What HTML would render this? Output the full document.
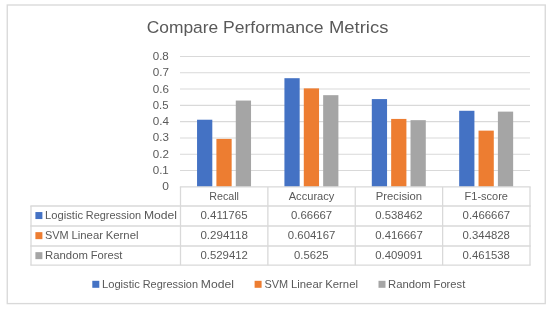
<!DOCTYPE html>
<html lang="en"><head><meta charset="utf-8"><title>Compare Performance Metrics</title>
<style>
html,body{margin:0;padding:0;background:#fff;}
body{width:550px;height:310px;overflow:hidden;}
svg{display:block;}
svg text{font-family:"Liberation Sans",sans-serif;fill:#595959;font-size:10.9px;white-space:pre;}
svg text.t{font-size:17.2px;}
</style></head><body>
<svg width="550" height="310" viewBox="0 0 550 310">
<rect x="0" y="0" width="550" height="310" fill="#fff"/>
<rect x="7.25" y="5.0" width="538.0" height="298.6" fill="#fff" stroke="#D9D9D9" stroke-width="1.35"/>
<g stroke="#D9D9D9" stroke-width="1.05" fill="none">
<line x1="180.0" y1="170.51" x2="530.0" y2="170.51"/>
<line x1="180.0" y1="154.22" x2="530.0" y2="154.22"/>
<line x1="180.0" y1="137.93" x2="530.0" y2="137.93"/>
<line x1="180.0" y1="121.64" x2="530.0" y2="121.64"/>
<line x1="180.0" y1="105.35" x2="530.0" y2="105.35"/>
<line x1="180.0" y1="89.06" x2="530.0" y2="89.06"/>
<line x1="180.0" y1="72.77" x2="530.0" y2="72.77"/>
<line x1="180.0" y1="56.48" x2="530.0" y2="56.48"/>
</g>
<rect x="197.05" y="119.72" width="15.25" height="67.08" fill="#4472C4"/>
<rect x="216.41" y="138.89" width="15.25" height="47.91" fill="#ED7D31"/>
<rect x="235.78" y="100.56" width="15.25" height="86.24" fill="#A5A5A5"/>
<rect x="284.42" y="78.20" width="15.25" height="108.60" fill="#4472C4"/>
<rect x="303.79" y="88.38" width="15.25" height="98.42" fill="#ED7D31"/>
<rect x="323.15" y="95.17" width="15.25" height="91.63" fill="#A5A5A5"/>
<rect x="371.80" y="99.08" width="15.25" height="87.72" fill="#4472C4"/>
<rect x="391.16" y="118.92" width="15.25" height="67.88" fill="#ED7D31"/>
<rect x="410.53" y="120.16" width="15.25" height="66.64" fill="#A5A5A5"/>
<rect x="459.17" y="110.78" width="15.25" height="76.02" fill="#4472C4"/>
<rect x="478.54" y="130.63" width="15.25" height="56.17" fill="#ED7D31"/>
<rect x="497.90" y="111.62" width="15.25" height="75.18" fill="#A5A5A5"/>
<g stroke="#D9D9D9" stroke-width="1.3" fill="none">
<line x1="179.85" y1="186.9" x2="530.65" y2="186.9"/>
<line x1="30.35" y1="206.0" x2="530.65" y2="206.0"/>
<line x1="30.35" y1="226.0" x2="530.65" y2="226.0"/>
<line x1="30.35" y1="246.0" x2="530.65" y2="246.0"/>
<line x1="30.35" y1="265.2" x2="530.65" y2="265.2"/>
<line x1="31.0" y1="206.0" x2="31.0" y2="265.2"/>
<line x1="180.50" y1="186.9" x2="180.50" y2="265.2"/>
<line x1="267.88" y1="186.9" x2="267.88" y2="265.2"/>
<line x1="355.25" y1="186.9" x2="355.25" y2="265.2"/>
<line x1="442.62" y1="186.9" x2="442.62" y2="265.2"/>
<line x1="530.00" y1="186.9" x2="530.00" y2="265.2"/>
</g>
<rect x="35.4" y="212.05" width="7.0" height="7.0" fill="#4472C4"/>
<rect x="92.3" y="280.80" width="7.0" height="7.0" fill="#4472C4"/>
<rect x="35.4" y="232.15" width="7.0" height="7.0" fill="#ED7D31"/>
<rect x="254.6" y="280.80" width="7.0" height="7.0" fill="#ED7D31"/>
<rect x="35.4" y="252.15" width="7.0" height="7.0" fill="#A5A5A5"/>
<rect x="378.5" y="280.80" width="7.0" height="7.0" fill="#A5A5A5"/>
<text class="t" y="33.10"><tspan x="146.72" textLength="71.56" lengthAdjust="spacingAndGlyphs">Compare</tspan> <tspan x="223.06" textLength="100.42" lengthAdjust="spacingAndGlyphs">Performance</tspan> <tspan x="328.99" textLength="59.38" lengthAdjust="spacingAndGlyphs">Metrics</tspan></text>
<text x="162.27" y="190.25" textLength="6.68" lengthAdjust="spacingAndGlyphs">0</text>
<text x="152.72" y="173.96" textLength="16.08" lengthAdjust="spacingAndGlyphs">0.1</text>
<text x="152.72" y="157.67" textLength="16.13" lengthAdjust="spacingAndGlyphs">0.2</text>
<text x="152.72" y="141.38" textLength="16.11" lengthAdjust="spacingAndGlyphs">0.3</text>
<text x="152.72" y="125.09" textLength="16.22" lengthAdjust="spacingAndGlyphs">0.4</text>
<text x="152.73" y="108.80" textLength="15.80" lengthAdjust="spacingAndGlyphs">0.5</text>
<text x="152.72" y="92.51" textLength="16.16" lengthAdjust="spacingAndGlyphs">0.6</text>
<text x="152.72" y="76.22" textLength="16.27" lengthAdjust="spacingAndGlyphs">0.7</text>
<text x="152.72" y="59.93" textLength="16.08" lengthAdjust="spacingAndGlyphs">0.8</text>
<text x="209.26" y="200.00" textLength="29.71" lengthAdjust="spacingAndGlyphs">Recall</text>
<text x="288.71" y="200.00" textLength="45.66" lengthAdjust="spacingAndGlyphs">Accuracy</text>
<text x="375.77" y="200.00" textLength="46.28" lengthAdjust="spacingAndGlyphs">Precision</text>
<text x="464.60" y="200.00" textLength="43.40" lengthAdjust="spacingAndGlyphs">F1-score</text>
<text y="219.30"><tspan x="45.03" textLength="38.01" lengthAdjust="spacingAndGlyphs">Logistic</tspan> <tspan x="85.83" textLength="55.25" lengthAdjust="spacingAndGlyphs">Regression</tspan> <tspan x="143.99" textLength="33.08" lengthAdjust="spacingAndGlyphs">Model</tspan></text>
<text x="200.42" y="219.30" textLength="47.16" lengthAdjust="spacingAndGlyphs">0.411765</text>
<text x="290.95" y="219.30" textLength="41.27" lengthAdjust="spacingAndGlyphs">0.66667</text>
<text x="375.18" y="219.30" textLength="47.45" lengthAdjust="spacingAndGlyphs">0.538462</text>
<text x="462.55" y="219.30" textLength="47.58" lengthAdjust="spacingAndGlyphs">0.466667</text>
<text y="239.40"><tspan x="44.94" textLength="23.65" lengthAdjust="spacingAndGlyphs">SVM</tspan> <tspan x="71.47" textLength="31.52" lengthAdjust="spacingAndGlyphs">Linear</tspan> <tspan x="105.73" textLength="32.77" lengthAdjust="spacingAndGlyphs">Kernel</tspan></text>
<text x="200.42" y="239.40" textLength="47.42" lengthAdjust="spacingAndGlyphs">0.294118</text>
<text x="287.80" y="239.40" textLength="47.58" lengthAdjust="spacingAndGlyphs">0.604167</text>
<text x="375.18" y="239.40" textLength="47.58" lengthAdjust="spacingAndGlyphs">0.416667</text>
<text x="462.55" y="239.40" textLength="47.40" lengthAdjust="spacingAndGlyphs">0.344828</text>
<text y="259.40"><tspan x="45.08" textLength="42.78" lengthAdjust="spacingAndGlyphs">Random</tspan> <tspan x="90.67" textLength="31.69" lengthAdjust="spacingAndGlyphs">Forest</tspan></text>
<text x="200.43" y="259.40" textLength="47.45" lengthAdjust="spacingAndGlyphs">0.529412</text>
<text x="294.10" y="259.40" textLength="34.53" lengthAdjust="spacingAndGlyphs">0.5625</text>
<text x="375.18" y="259.40" textLength="47.40" lengthAdjust="spacingAndGlyphs">0.409091</text>
<text x="462.55" y="259.40" textLength="47.40" lengthAdjust="spacingAndGlyphs">0.461538</text>
<text y="287.60"><tspan x="101.93" textLength="38.01" lengthAdjust="spacingAndGlyphs">Logistic</tspan> <tspan x="142.73" textLength="55.25" lengthAdjust="spacingAndGlyphs">Regression</tspan> <tspan x="200.89" textLength="33.08" lengthAdjust="spacingAndGlyphs">Model</tspan></text>
<text y="287.60"><tspan x="264.44" textLength="23.65" lengthAdjust="spacingAndGlyphs">SVM</tspan> <tspan x="290.97" textLength="31.52" lengthAdjust="spacingAndGlyphs">Linear</tspan> <tspan x="325.23" textLength="32.77" lengthAdjust="spacingAndGlyphs">Kernel</tspan></text>
<text y="287.60"><tspan x="387.98" textLength="42.78" lengthAdjust="spacingAndGlyphs">Random</tspan> <tspan x="433.57" textLength="31.69" lengthAdjust="spacingAndGlyphs">Forest</tspan></text>
</svg></body></html>
